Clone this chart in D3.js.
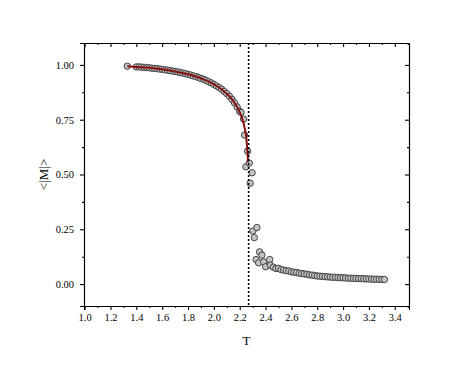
<!DOCTYPE html>
<html>
<head>
<meta charset="utf-8">
<script src="https://cdn.jsdelivr.net/npm/d3@7"></script>
<style>
    body { margin: 0; background: #fff; }
    .axis text { font-family: "Liberation Serif", "DejaVu Serif", serif; font-size: 10.5px; fill: #000; }
    .axis path, .axis line { stroke: #000; stroke-width: 1.1; }
</style>
</head>
<body>
<div id="chart"></div>
<script>
// ordered phase, T < Tc (simulation points)
let lowT = [1.33, 1.40, 1.42, 1.44, 1.46, 1.48, 1.50, 1.52, 1.54, 1.56, 1.58, 1.60, 1.62, 1.64, 1.66, 1.68,
    1.70, 1.72, 1.74, 1.76, 1.78, 1.80, 1.82, 1.84, 1.86, 1.88, 1.90, 1.92, 1.94, 1.96, 1.98, 2.00,
    2.02, 2.04, 2.06, 2.08, 2.10, 2.12, 2.14, 2.16, 2.18, 2.20, 2.21, 2.23, 2.237, 2.261];
let lowM = [0.994, 0.991, 0.991, 0.990, 0.989, 0.988, 0.987, 0.985, 0.984, 0.983, 0.981, 0.980, 0.978, 0.976, 0.974, 0.972,
    0.970, 0.968, 0.965, 0.963, 0.960, 0.957, 0.954, 0.950, 0.947, 0.943, 0.938, 0.934, 0.929, 0.923, 0.918, 0.911,
    0.904, 0.897, 0.889, 0.879, 0.869, 0.857, 0.843, 0.827, 0.808, 0.788, 0.783, 0.753, 0.680, 0.606];

// around and above Tc
let highT = [2.248, 2.274, 2.296, 2.281, 2.302, 2.333, 2.313, 2.354, 2.372, 2.326, 2.346, 2.385, 2.432, 2.400, 2.437,
    2.46, 2.48, 2.50, 2.52, 2.54, 2.56, 2.58, 2.60, 2.62, 2.64, 2.66, 2.68, 2.70, 2.72, 2.74, 2.76, 2.78,
    2.80, 2.82, 2.84, 2.86, 2.88, 2.90, 2.92, 2.94, 2.96, 2.98, 3.00, 3.02, 3.04, 3.06, 3.08, 3.10, 3.12,
    3.14, 3.16, 3.18, 3.20, 3.22, 3.24, 3.26, 3.28, 3.30, 3.32];
let highM = [0.535, 0.552, 0.508, 0.460, 0.242, 0.258, 0.212, 0.147, 0.132, 0.112, 0.097, 0.101, 0.112, 0.079, 0.086,
    0.077, 0.071, 0.072, 0.066, 0.064, 0.061, 0.060, 0.056, 0.054, 0.053, 0.050, 0.048, 0.046, 0.045, 0.042, 0.041, 0.039,
    0.037, 0.036, 0.035, 0.034, 0.033, 0.032, 0.031, 0.031, 0.030, 0.029, 0.029, 0.028, 0.027, 0.027, 0.026, 0.026, 0.025,
    0.025, 0.024, 0.024, 0.023, 0.023, 0.022, 0.022, 0.022, 0.021, 0.021];

// fitted curve (red)
let fitT = [1.33, 1.40, 1.50, 1.60, 1.70, 1.80, 1.86, 1.92, 1.98, 2.04, 2.08, 2.12, 2.16, 2.18, 2.20, 2.22, 2.24, 2.25, 2.26, 2.265];
let fitM = [0.994, 0.991, 0.987, 0.980, 0.970, 0.957, 0.947, 0.934, 0.918, 0.897, 0.879, 0.857, 0.827, 0.808, 0.785, 0.754, 0.707, 0.672, 0.600, 0.556];

let Tc = 2.269;

let xTicks = [1.0, 1.2, 1.4, 1.6, 1.8, 2.0, 2.2, 2.4, 2.6, 2.8, 3.0, 3.2, 3.4];
let xMinor = [1.1, 1.3, 1.5, 1.7, 1.9, 2.1, 2.3, 2.5, 2.7, 2.9, 3.1, 3.3, 3.5];
let yTicks = [0.00, 0.25, 0.50, 0.75, 1.00];
let yMinor = [0.125, 0.375, 0.625, 0.875];

let width = 474, height = 366;
let pLeft = 84, pRight = 409, pTop = 43, pBottom = 306;

let svg = d3.select("#chart").append("svg")
    .attr("width", width)
    .attr("height", height);

let x = d3.scaleLinear().domain([0.995, 3.51]).range([pLeft, pRight]);
let y = d3.scaleLinear().domain([-0.1, 1.1]).range([pBottom, pTop]);

// bottom axis, ticks out
svg.append("g").attr("class", "axis")
    .attr("transform", "translate(0," + pBottom + ")")
    .call(d3.axisBottom(x).tickValues(xTicks).tickFormat(d3.format(".1f")).tickSize(4).tickPadding(4));
svg.append("g").attr("class", "axis")
    .attr("transform", "translate(0," + pBottom + ")")
    .call(d3.axisBottom(x).tickValues(xMinor).tickFormat("").tickSize(2).tickSizeOuter(0));

// top axis, ticks in
svg.append("g").attr("class", "axis")
    .attr("transform", "translate(0," + pTop + ")")
    .call(d3.axisBottom(x).tickValues(xTicks).tickFormat("").tickSize(4).tickSizeOuter(0));
svg.append("g").attr("class", "axis")
    .attr("transform", "translate(0," + pTop + ")")
    .call(d3.axisBottom(x).tickValues(xMinor).tickFormat("").tickSize(2).tickSizeOuter(0));

// left axis, ticks out
svg.append("g").attr("class", "axis")
    .attr("transform", "translate(" + pLeft + ",0)")
    .call(d3.axisLeft(y).tickValues(yTicks).tickFormat(d3.format(".2f")).tickSize(4).tickPadding(6));
svg.append("g").attr("class", "axis")
    .attr("transform", "translate(" + pLeft + ",0)")
    .call(d3.axisLeft(y).tickValues(yMinor).tickFormat("").tickSize(2).tickSizeOuter(0));

// right axis, ticks in
svg.append("g").attr("class", "axis")
    .attr("transform", "translate(" + pRight + ",0)")
    .call(d3.axisLeft(y).tickValues(yTicks).tickFormat("").tickSize(4).tickSizeOuter(0));
svg.append("g").attr("class", "axis")
    .attr("transform", "translate(" + pRight + ",0)")
    .call(d3.axisLeft(y).tickValues(yMinor).tickFormat("").tickSize(2).tickSizeOuter(0));

// axis titles
svg.append("text")
    .attr("x", (pLeft + pRight) / 2)
    .attr("y", 345)
    .attr("text-anchor", "middle")
    .style("font-family", "Liberation Serif, serif")
    .style("font-size", "13px")
    .text("T");

svg.append("text")
    .attr("transform", "translate(48," + ((pTop + pBottom) / 2) + ") rotate(-90)")
    .attr("text-anchor", "middle")
    .style("font-family", "Liberation Serif, serif")
    .style("font-size", "13px")
    .text("<|M|>");

// points
let points = lowT.map((t, i) => ({t: t, m: lowM[i]}))
    .concat(highT.map((t, i) => ({t: t, m: highM[i]})));

svg.append("g")
    .selectAll("circle")
    .data(points)
    .enter()
    .append("circle")
    .attr("cx", d => x(d.t))
    .attr("cy", d => y(d.m))
    .attr("r", 3.2)
    .attr("fill", "#c4c4c4")
    .attr("stroke", "#333")
    .attr("stroke-width", 0.9);

// fit line
let fit = fitT.map((t, i) => ({t: t, m: fitM[i]}));
svg.append("path")
    .datum(fit)
    .attr("fill", "none")
    .attr("stroke", "#841010")
    .attr("stroke-width", 2)
    .attr("d", d3.line().curve(d3.curveMonotoneX)
        .x(d => x(d.t))
        .y(d => y(d.m)));

// critical temperature
svg.append("line")
    .attr("x1", x(Tc))
    .attr("x2", x(Tc))
    .attr("y1", y(1.1))
    .attr("y2", y(-0.1))
    .attr("stroke", "#000")
    .attr("stroke-width", 1.6)
    .style("stroke-dasharray", "2,2");
</script>
</body>
</html>
